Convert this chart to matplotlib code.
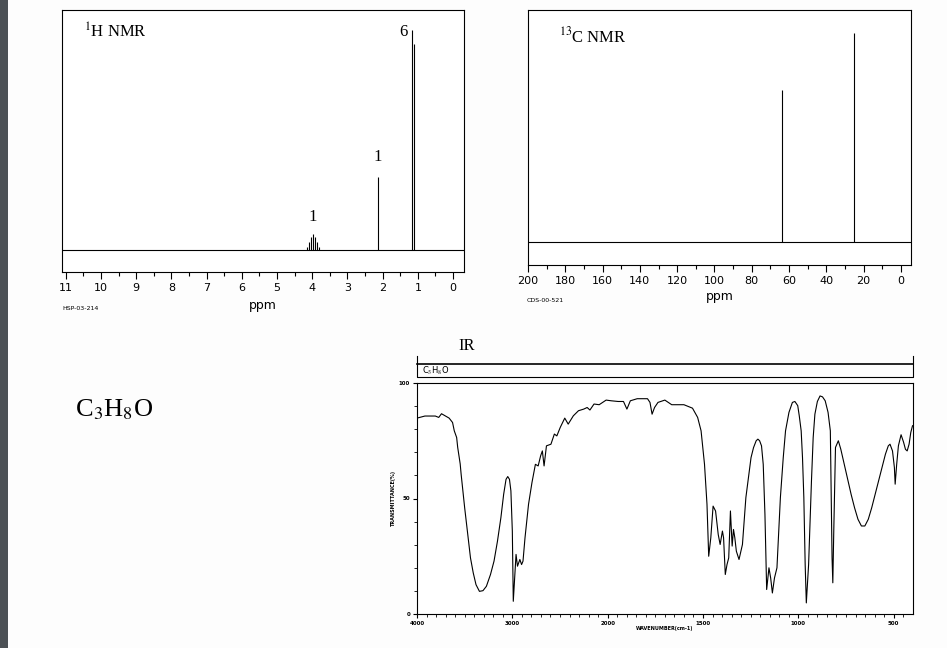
import numpy as np
import matplotlib.pyplot as plt
from matplotlib.patches import Rectangle

plt.rcParams['mathtext.fontset'] = 'stix'
plt.rcParams['font.family'] = 'DejaVu Sans'

# 1H NMR peaks (ppm, height)
h_shift = [4.14, 4.08, 4.03, 3.97, 3.91, 3.86, 3.80, 2.13, 1.17, 1.10]
h_int = [3, 8, 13, 16, 13, 8, 3, 73, 220, 206]
h_labels = ['1', '1', '6']
h_label_x = [4.0, 2.15, 1.42]
h_label_y = [33, 93, 218]

# 13C NMR peaks
c_shift = [63.8, 25.2]
c_int = [152, 209]

# IR trace (wavenumber cm-1, transmittance %)
ir_wn = [4000, 3917, 3808, 3772, 3743, 3663, 3627, 3609, 3584, 3573, 3547, 3537,
         3511, 3500, 3464, 3439, 3410, 3381, 3345, 3308, 3272, 3229, 3192, 3156,
         3120, 3091, 3066, 3048, 3030, 3015, 3000, 2990, 2975, 2961, 2946,
         2921, 2903, 2888, 2867, 2830, 2794, 2758, 2729, 2703, 2685, 2667, 2642,
         2595, 2559, 2533, 2497, 2450, 2414, 2360, 2306, 2251, 2215, 2186, 2143,
         2089, 2016, 1981, 1945, 1917, 1899, 1881, 1845, 1791, 1778, 1767, 1754,
         1736, 1700, 1664, 1600, 1555, 1528, 1510, 1492, 1479, 1470, 1459, 1447,
         1434, 1420, 1410, 1398, 1392, 1383, 1374, 1365, 1356, 1347, 1340, 1333,
         1325, 1311, 1293, 1275, 1260, 1248, 1235, 1221, 1212, 1203, 1193, 1184,
         1175, 1166, 1154, 1145, 1136, 1125, 1112, 1094, 1079, 1067, 1049, 1031,
         1018, 1003, 995, 985, 978, 971, 964, 958, 946, 931, 922, 913, 900,
         886, 873, 859, 844, 832, 823, 819, 814, 805, 790, 777, 759, 741, 723,
         705, 687, 669, 651, 633, 615, 597, 579, 561, 543, 528, 519, 506, 496,
         492, 484, 475, 461, 448, 438, 429, 419, 410, 401]
ir_t = [84.8, 85.7, 85.7, 85.1, 86.7, 84.8, 82.9, 79.3, 76.4, 72.1, 65.0, 60.5,
        50.4, 46.0, 33.0, 24.3, 17.8, 12.7, 9.8, 10.1, 12.0, 17.1, 22.9, 31.5,
        41.7, 51.8, 58.3, 59.5, 58.3, 53.3, 35.9, 5.5, 15.6, 25.8, 20.7,
        23.6, 21.4, 22.9, 33.0, 47.5, 56.9, 64.8, 64.1, 68.5, 70.6, 64.1, 72.8,
        73.5, 77.9, 77.1, 80.8, 84.8, 82.2, 85.8, 88.0, 88.7, 89.4, 88.3, 90.9,
        90.6, 92.6, 92.3, 92.0, 92.0, 88.7, 92.3, 93.2, 93.2, 91.6, 86.5, 89.4,
        91.6, 92.6, 90.6, 90.6, 89.1, 85.1, 79.3, 64.8, 47.5, 25.0, 33.0, 46.7,
        44.6, 34.4, 30.1, 35.9, 33.0, 17.1, 21.4, 24.3, 44.6, 29.4, 36.6, 33.0,
        27.2, 23.6, 30.1, 50.4, 60.1, 67.7, 72.0, 75.0, 75.7, 75.0, 72.8, 64.8,
        43.1, 10.6, 20.0, 15.6, 9.1, 15.6, 20.0, 50.4, 67.7, 79.3, 87.3, 91.6,
        92.0, 90.2, 85.8, 79.3, 67.7, 50.4, 21.4, 4.8, 21.4, 57.6, 76.4, 86.5, 92.0,
        94.4, 94.0, 92.3, 87.3, 79.3, 24.3, 13.5, 35.9, 72.1, 75.0, 71.3, 64.8,
        58.3, 51.8, 46.0, 41.0, 38.1, 38.1, 41.0, 46.0, 51.8, 57.6, 63.4, 69.2,
        72.8, 73.5, 70.6, 63.4, 56.2, 64.8, 72.8, 77.6, 74.4, 71.3, 70.6, 73.5,
        78.6, 81.5]
ir_major = [4000, 3000, 2000, 1500, 1000, 500]
ir_major_labels = ['4000', '3000', '2000', '1500', '1000', '500']

W, H = 947, 648
fig = plt.figure(figsize=(9.47, 6.48), dpi=100)
fig.patch.set_facecolor('#fdfdfd')
fig.add_artist(Rectangle((0, 0), 8 / W, 1, transform=fig.transFigure,
                         facecolor='#4c5155', edgecolor='none'))


def px_axes(x0, x1, y0, y1):
    # axes from pixel box (top-left origin)
    return fig.add_axes([x0 / W, 1 - y1 / H, (x1 - x0) / W, (y1 - y0) / H])


lw = 0.8

# ---- 1H NMR ----
ax1 = px_axes(62, 464, 10, 272)
ax1.set_xlim(11.11, -0.31)
ax1.set_ylim(-22, 240)
ax1.axhline(0, color='black', lw=lw)
ax1.vlines(h_shift, 0, h_int, color='black', lw=lw)
for s, x, y in zip(h_labels, h_label_x, h_label_y):
    ax1.text(x, y, s, ha='center', va='center', fontsize=12, family='Liberation Serif')
ax1.text(0.055, 0.915, '$^1$H NMR', transform=ax1.transAxes, fontsize=12,
         family='Liberation Serif', va='center')
ax1.set_xticks(range(0, 12))
ax1.set_xticks(np.arange(0.5, 11, 1), minor=True)
ax1.set_yticks([])
ax1.tick_params(axis='x', direction='out', length=5, width=lw, labelsize=8, pad=3)
ax1.tick_params(axis='x', which='minor', direction='out', length=3, width=lw)
ax1.set_xlabel('ppm', fontsize=9, labelpad=4)
fig.text(62 / W, 1 - 308 / H, 'HSP-03-214', fontsize=4.5, va='center')

# ---- 13C NMR ----
ax2 = px_axes(528, 911, 10, 265)
ax2.set_xlim(200, -5.4)
ax2.set_ylim(-23, 232)
ax2.axhline(0, color='black', lw=lw)
ax2.vlines(c_shift, 0, c_int, color='black', lw=lw)
ax2.text(0.08, 0.895, '$^{13}$C NMR', transform=ax2.transAxes, fontsize=12,
         family='Liberation Serif', va='center')
ax2.set_xticks(range(0, 201, 20))
ax2.set_xticks(range(10, 200, 20), minor=True)
ax2.set_yticks([])
ax2.tick_params(axis='x', direction='out', length=5, width=lw, labelsize=8, pad=3)
ax2.tick_params(axis='x', which='minor', direction='out', length=3, width=lw)
ax2.set_xlabel('ppm', fontsize=9, labelpad=3)
fig.text(527 / W, 1 - 300 / H, 'CDS-00-521', fontsize=4.5, va='center')

# ---- IR ----
def fwd(w):
    w = np.asarray(w, dtype=float)
    return np.where(w >= 2000, w, 2 * w - 2000)


def inv(p):
    p = np.asarray(p, dtype=float)
    return np.where(p >= 2000, p, (p + 2000) / 2)


ax3 = px_axes(417, 912.7, 383, 614)
ax3.set_xscale('function', functions=(fwd, inv))
ax3.set_xlim(4000, 400)
ax3.set_ylim(0, 100)
ax3.plot(ir_wn, ir_t, color='black', lw=lw)
ax3.set_xticks(ir_major)
ax3.set_xticklabels(ir_major_labels)
ax3.set_xticks(list(range(3900, 2000, -100)) + list(range(1950, 400, -50)), minor=True)
ax3.set_yticks([0, 50, 100])
ax3.set_yticklabels(['0', '50', '100'])
ax3.set_yticks(range(10, 100, 10), minor=True)
ax3.tick_params(direction='out', length=3, width=lw, labelsize=4, pad=2)
ax3.tick_params(which='minor', direction='out', length=2, width=0.6)
for lab in ax3.get_xticklabels() + ax3.get_yticklabels():
    lab.set_fontweight('bold')
ax3.set_xlabel('WAVENUMBER(cm-1)', fontsize=3.5, fontweight='bold', labelpad=0)
ax3.set_ylabel('TRANSMITTANCE(%)', fontsize=3.5, fontweight='bold', labelpad=2)

# header strip above the IR plot
axh = px_axes(417, 912.7, 356, 377)
axh.set_xlim(0, 1)
axh.set_ylim(0, 21)
axh.axis('off')
axh.plot([0, 0, 1, 1], [21, 0, 0, 21], color='black', lw=lw, clip_on=False)
axh.plot([0, 1], [13, 13], color='black', lw=1.2, clip_on=False)
axh.text(0.01, 6.5, 'C$_3$H$_8$O', fontsize=6, va='center')

fig.text(467 / W, 1 - 346 / H, 'IR', fontsize=12, family='Liberation Serif',
         ha='center', va='center')
fig.text(75 / W, 1 - 410 / H, 'C$_3$H$_8$O', fontsize=19, family='Liberation Serif',
         va='center')

fig.savefig('out.png', dpi=100, facecolor=fig.get_facecolor())
